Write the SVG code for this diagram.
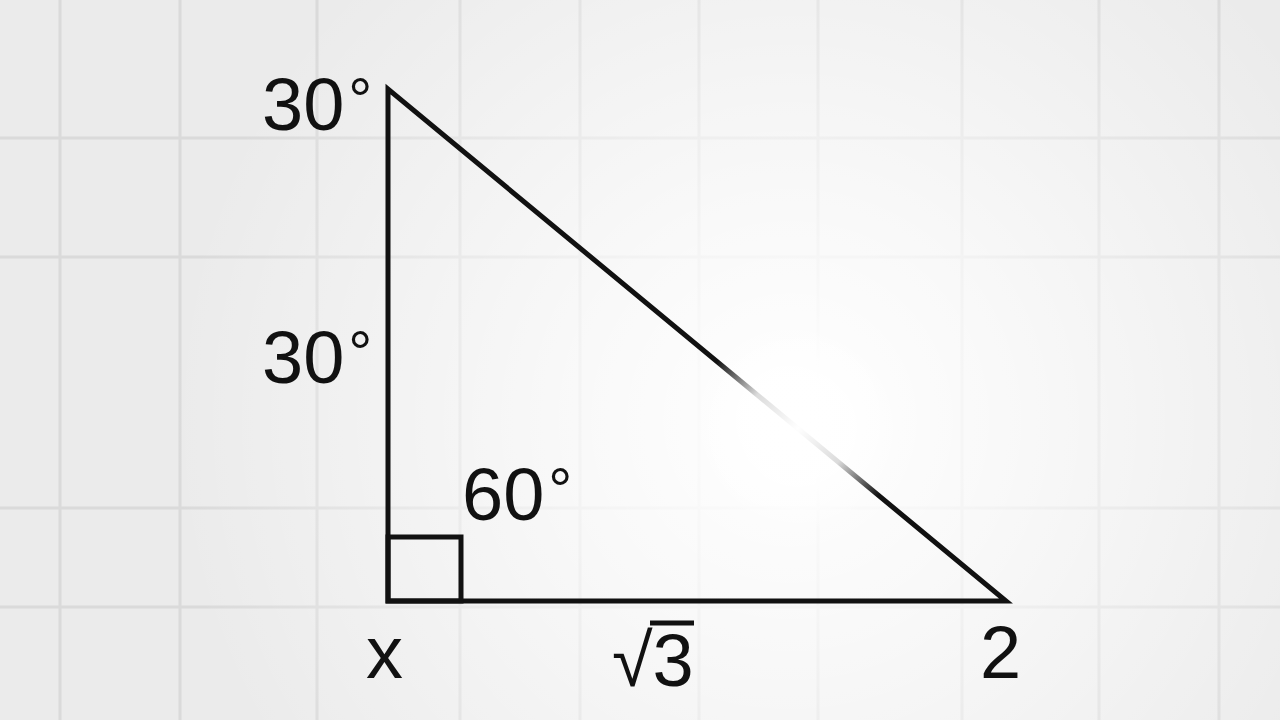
<svg xmlns="http://www.w3.org/2000/svg" width="1280" height="720" viewBox="0 0 1280 720">
  <defs>
    <radialGradient id="bigGlow" gradientUnits="userSpaceOnUse" cx="790" cy="420" r="620">
      <stop offset="0" stop-color="#ffffff" stop-opacity="1"/>
      <stop offset="0.35" stop-color="#ffffff" stop-opacity="0.7"/>
      <stop offset="1" stop-color="#ffffff" stop-opacity="0"/>
    </radialGradient>
    <radialGradient id="hotGlow" gradientUnits="userSpaceOnUse" cx="798" cy="428" r="105">
      <stop offset="0" stop-color="#ffffff" stop-opacity="1"/>
      <stop offset="0.5" stop-color="#ffffff" stop-opacity="0.85"/>
      <stop offset="1" stop-color="#ffffff" stop-opacity="0"/>
    </radialGradient>
    <style>
      .grid line { stroke: #dadada; stroke-width: 3; }
      .shape { fill: none; stroke: #111111; stroke-width: 5; stroke-linejoin: miter; stroke-miterlimit: 20; }
      .lbl { font-family: "Liberation Sans", Arial, sans-serif; font-size: 74px; fill: #111111; }
      .deg { font-size: 60px; }
    </style>
  </defs>
  <rect x="0" y="0" width="1280" height="720" fill="#ebebeb"/>
  <g class="grid">
    <line x1="60" y1="0" x2="60" y2="720"/>
    <line x1="180" y1="0" x2="180" y2="720"/>
    <line x1="317" y1="0" x2="317" y2="720"/>
    <line x1="460" y1="0" x2="460" y2="720"/>
    <line x1="580" y1="0" x2="580" y2="720"/>
    <line x1="699" y1="0" x2="699" y2="720"/>
    <line x1="818" y1="0" x2="818" y2="720"/>
    <line x1="962" y1="0" x2="962" y2="720"/>
    <line x1="1099" y1="0" x2="1099" y2="720"/>
    <line x1="1219" y1="0" x2="1219" y2="720"/>
    <line x1="0" y1="138" x2="1280" y2="138"/>
    <line x1="0" y1="257" x2="1280" y2="257"/>
    <line x1="0" y1="508" x2="1280" y2="508"/>
    <line x1="0" y1="607" x2="1280" y2="607"/>
  </g>
  <rect x="0" y="0" width="1280" height="720" fill="url(#bigGlow)"/>
  <g id="triangle">
    <polygon class="shape" points="388,89 388,601 1006,601"/>
    <rect class="shape" x="388" y="537" width="73" height="64"/>
  </g>
  <g id="connectors"></g>
  <rect x="640" y="280" width="320" height="300" fill="url(#hotGlow)"/>
  <g id="labels">
    <text class="lbl" x="262" y="130">30<tspan class="deg" dx="4" dy="-10">°</tspan></text>
    <text class="lbl" x="262" y="383">30<tspan class="deg" dx="4" dy="-10">°</tspan></text>
    <text class="lbl" x="462" y="520">60<tspan class="deg" dx="4" dy="-10">°</tspan></text>
    <text class="lbl" x="366" y="678">x</text>
    <text class="lbl" x="980" y="678">2</text>
    <g id="sqrt3">
      <text class="lbl" x="612" y="686">√3</text>
      <line x1="650" y1="623" x2="694" y2="623" stroke="#111111" stroke-width="5"/>
    </g>
  </g>
</svg>
